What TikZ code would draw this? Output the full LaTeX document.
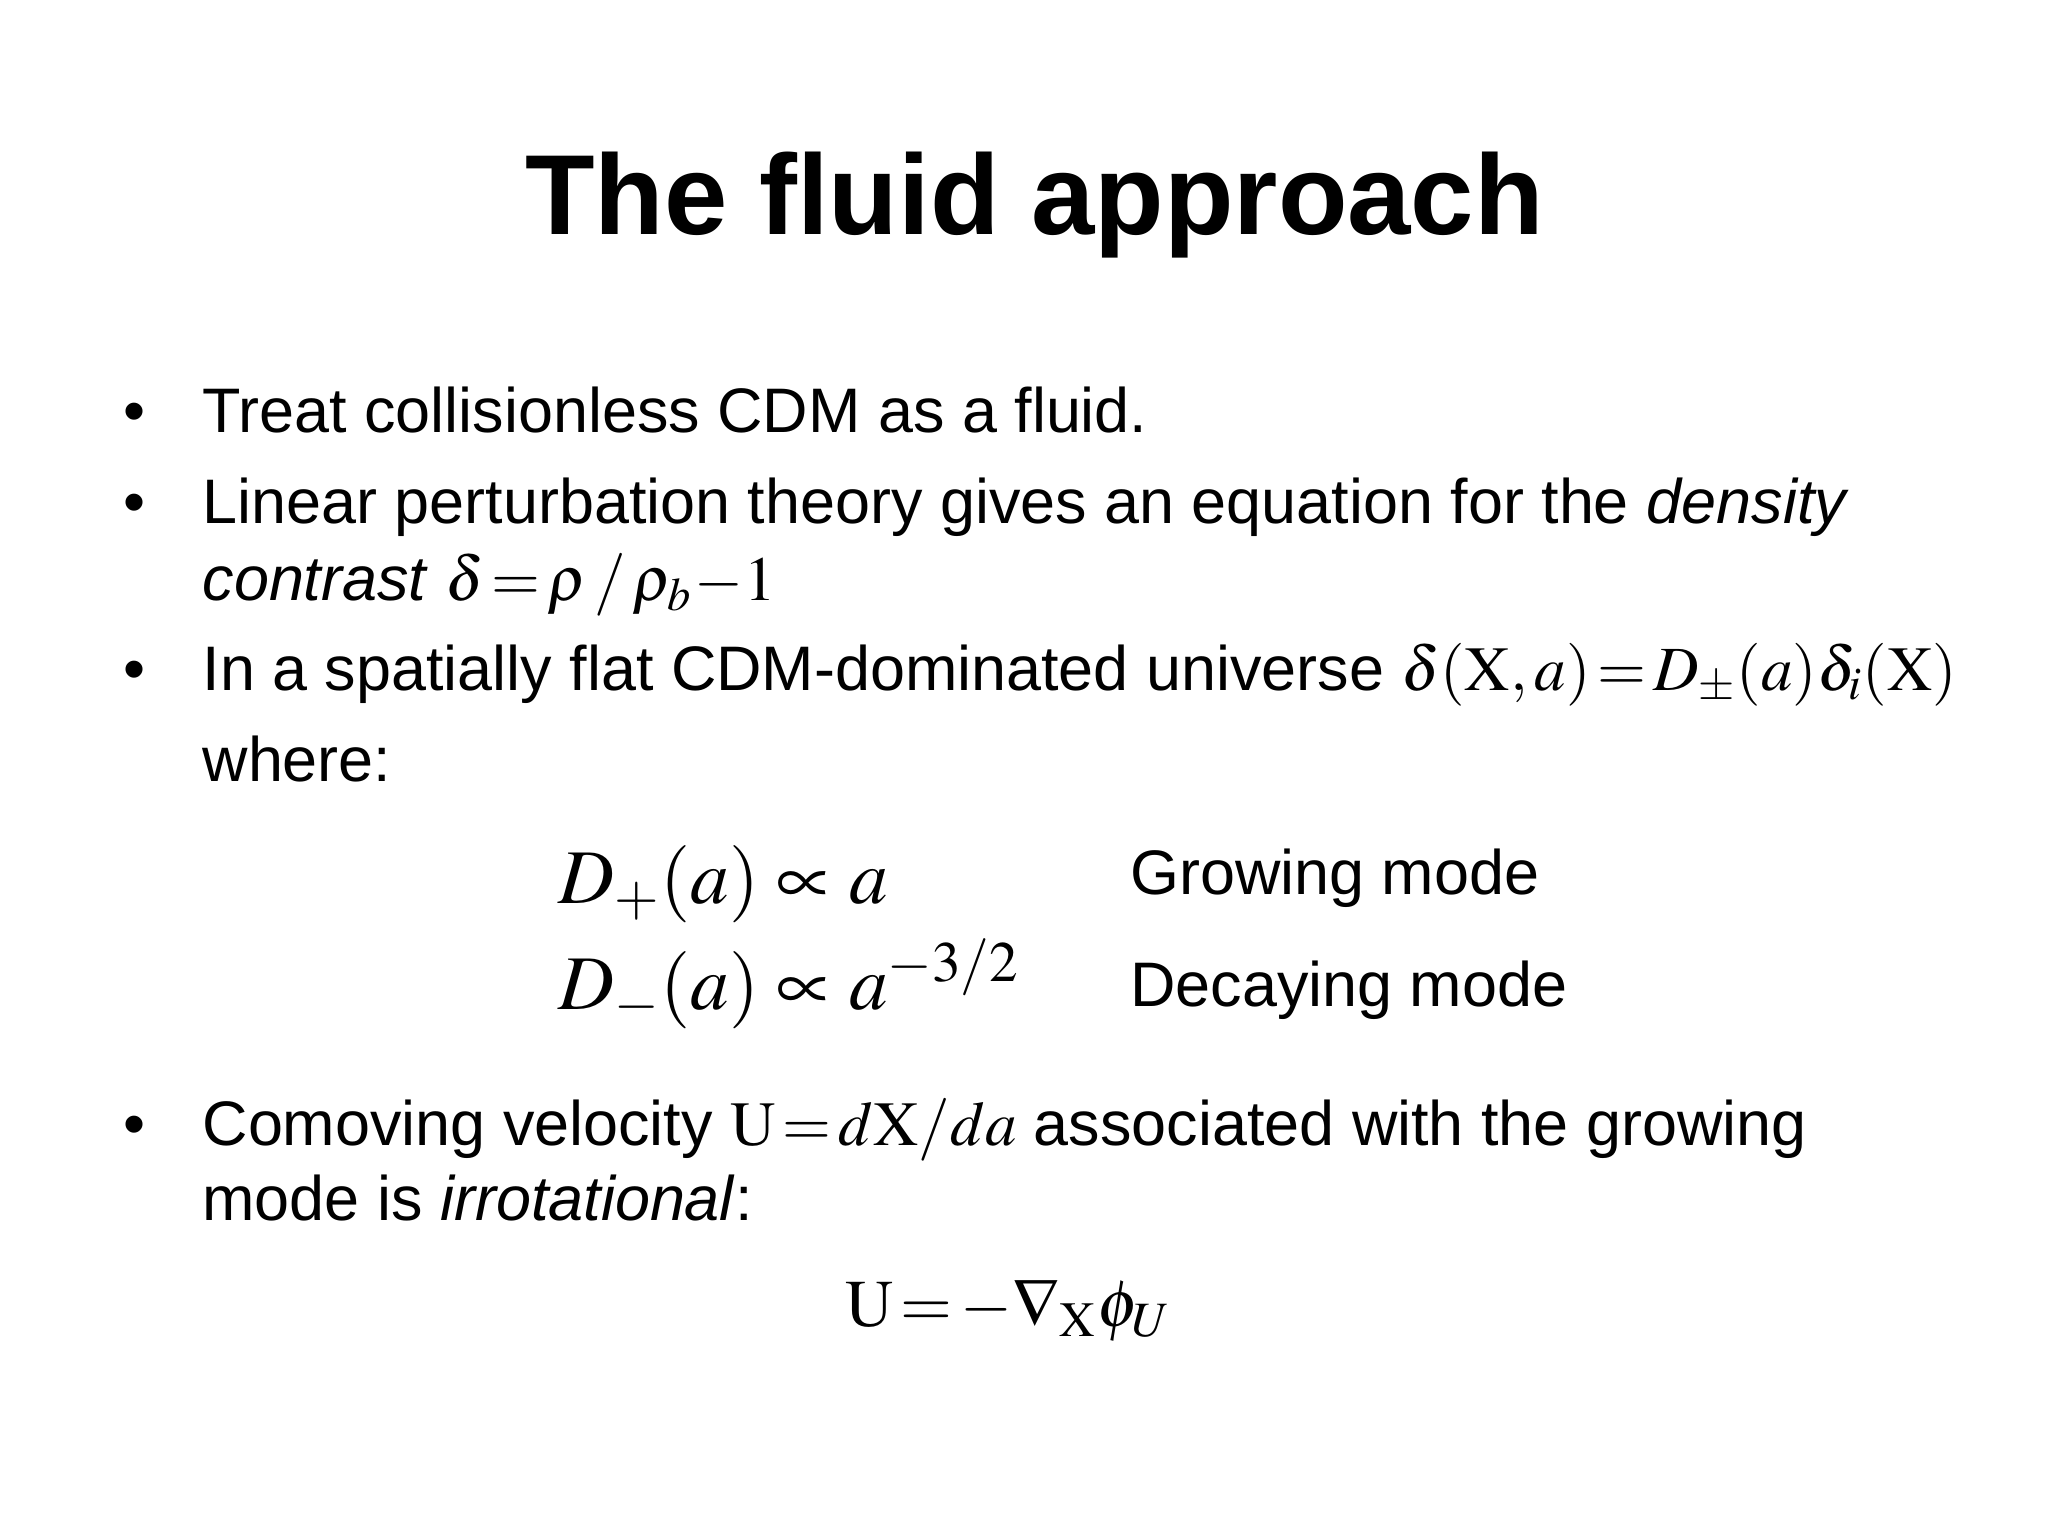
\documentclass[tikz,border=0pt]{standalone}
\usepackage{mathptmx}
\usepackage[no-math]{fontspec}
\setmainfont{Liberation Sans}
\begin{document}
\begin{tikzpicture}[x=0.013196cm,y=-0.013196cm,
 txt/.style={anchor=base west,inner sep=0,font=\fontsize{17.9}{22}\selectfont},
 bul/.style={anchor=base,inner sep=0,font=\fontsize{17.9}{22}\selectfont}]
\useasboundingbox[fill=white] (0,0) rectangle (1552,1164);
\node[anchor=base,inner sep=0,font=\fontsize{32.4}{36}\selectfont\bfseries] (title) at (784,178) {The fluid approach};
\node[bul] (b1) at (102,328) {•};
\node[txt] (t1) at (153,328) {Treat collisionless CDM as a fluid.};
\node[bul] (b2) at (102,397) {•};
\node[txt] (t2) at (153,397) {Linear perturbation theory gives an equation for the \textit{density}};
\node[txt] (t2b) at (153,455) {\textit{contrast} $\delta\!=\!\rho\,/\,\rho_b\!-\!1$};
\node[bul] (b3) at (102,523) {•};
\node[txt] (t3) at (153,523) {In a spatially flat CDM-dominated universe $\delta(\mathrm{X},a)\!=\!D_\pm(a)\delta_i(\mathrm{X})$};
\node[txt] (t3b) at (153,592) {where:};
\node[txt,font=\fontsize{22}{26}\selectfont] (e1) at (423,685) {$D_+(a)\propto a$};
\node[txt,font=\fontsize{22}{26}\selectfont] (e2) at (423,765) {$D_-(a)\propto a^{-3/2}$};
\node[txt] (g) at (856,678) {Growing mode};
\node[txt] (d) at (856,763) {Decaying mode};
\node[bul] (b4) at (102,868) {•};
\node[txt] (t4) at (153,868) {Comoving velocity $\mathrm{U}\!=\!d\mathrm{X}/da$ associated with the growing};
\node[txt] (t4b) at (153,925) {mode is \textit{irrotational}:};
\node[txt,font=\fontsize{19}{23}\selectfont] (e3) at (640,1005) {$\mathrm{U}\!=\!-\nabla_{\mathrm{X}}\phi_U$};
\end{tikzpicture}
\end{document}
